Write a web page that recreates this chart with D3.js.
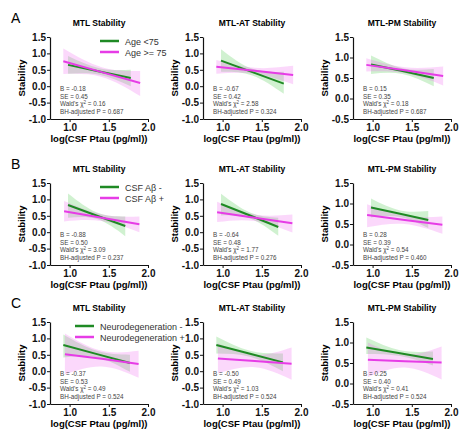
<html>
<head><meta charset="utf-8"></head>
<body style="margin:0;background:#fff">
<script src="https://d3js.org/d3.v7.min.js"></script>
<svg width="474" height="436"></svg>
<script>
// ---- data ----
var rowLetters = ["A", "B", "C"];
var panelTitles = ["MTL Stability", "MTL-AT Stability", "MTL-PM Stability"];
var yDomains = [[-1, 1.5], [-1, 1.5], [-0.5, 1.5]];
var xTicks = [1.0, 1.5, 2.0];
var legendLabels = [["Age <75", "Age >= 75"], ["CSF A\u03b2 -", "CSF A\u03b2 +"], ["Neurodegeneration -", "Neurodegeneration +"]];

// x positions (start, middle, end) of each group's fit, per row
var greenX = [[0.98, 1.38, 1.78], [0.98, 1.35, 1.71], [0.92, 1.35, 1.77]];
var pinkX  = [[0.92, 1.41, 1.90], [0.93, 1.41, 1.89], [0.94, 1.41, 1.88]];

// fit line and 95% band at those x, per panel (row-major)
var greenFit = [[0.65,0.45,0.25],[0.78,0.43,0.08],[0.83,0.67,0.50],
                [0.83,0.50,0.19],[0.86,0.51,0.16],[0.90,0.75,0.60],
                [0.80,0.52,0.25],[0.80,0.53,0.27],[0.88,0.74,0.60]];
var greenHi  = [[0.92,0.55,0.50],[1.13,0.53,0.44],[1.05,0.74,0.72],
                [1.18,0.60,0.48],[1.17,0.60,0.44],[1.12,0.83,0.82],
                [1.12,0.62,0.50],[1.06,0.62,0.54],[1.12,0.81,0.78]];
var greenLo  = [[0.38,0.35,0.00],[0.44,0.33,-0.23],[0.60,0.60,0.30],
                [0.44,0.40,-0.12],[0.51,0.42,-0.11],[0.66,0.67,0.40],
                [0.42,0.42,-0.02],[0.54,0.44,0.00],[0.72,0.67,0.44]];
var pinkFit  = [[0.76,0.43,0.10],[0.59,0.47,0.34],[0.82,0.69,0.55],
                [0.64,0.44,0.24],[0.61,0.44,0.27],[0.72,0.60,0.48],
                [0.52,0.38,0.22],[0.39,0.31,0.23],[0.58,0.545,0.51]];
var pinkHi   = [[1.15,0.58,0.46],[0.80,0.56,0.62],[0.98,0.76,0.78],
                [0.95,0.54,0.48],[0.93,0.54,0.54],[0.98,0.70,0.68],
                [1.15,0.62,0.62],[0.85,0.50,0.72],[1.00,0.70,0.90]];
var pinkLo   = [[0.37,0.28,-0.30],[0.38,0.38,0.06],[0.66,0.62,0.32],
                [0.33,0.34,0.00],[0.31,0.34,-0.01],[0.42,0.50,0.26],
                [-0.10,0.14,-0.20],[-0.07,0.12,-0.26],[0.16,0.39,0.10]];

var statB   = ["-0.18", "-0.67", "0.15", "-0.88", "-0.64", "0.28", "-0.37", "-0.50", "0.25"];
var statSE  = ["0.45", "0.42", "0.35", "0.50", "0.48", "0.39", "0.53", "0.49", "0.40"];
var statChi = ["0.16", "2.58", "0.18", "3.09", "1.77", "0.54", "0.49", "1.03", "0.41"];
var statP   = ["0.687", "0.324", "0.687", "0.237", "0.276", "0.460", "0.524", "0.524", "0.524"];

// ---- layout ----
var colLeft = [50, 203, 353];
var rowTop = [37, 183, 322];
var pw = 98, ph = 82;
var font = "'Liberation Sans', Arial, sans-serif";
var greenCol = "#1f8a24", pinkCol = "#e63ce6";

var svg = d3.select("svg").style("font-family", font);
var fmt = function(v) { return d3.format(".1f")(v).replace("\u2212", "-"); };

rowLetters.forEach(function(letter, r) {
    svg.append("text")
        .attr("x", 11).attr("y", rowTop[r] - 14)
        .attr("font-size", 14)
        .text(letter);

    panelTitles.forEach(function(title, c) {
        var i = r * 3 + c;
        var g = svg.append("g")
            .attr("transform", "translate(" + colLeft[c] + "," + rowTop[r] + ")");

        var x = d3.scaleLinear().domain([0.75, 2.0]).range([0, pw]);
        var y = d3.scaleLinear().domain(yDomains[c]).range([ph, 0]);

        // bands
        var groups = [
            {xs: greenX[r], fit: greenFit[i], hi: greenHi[i], lo: greenLo[i], col: greenCol, fill: "rgba(40,190,40,0.22)"},
            {xs: pinkX[r], fit: pinkFit[i], hi: pinkHi[i], lo: pinkLo[i], col: pinkCol, fill: "rgba(240,90,240,0.24)"}
        ];
        groups.forEach(function(gr) {
            var pts = gr.xs.map(function(xv, k) { return {x: xv, f: gr.fit[k], hi: gr.hi[k], lo: gr.lo[k]}; });
            g.append("path").datum(pts)
                .attr("fill", gr.fill)
                .attr("d", d3.area().curve(d3.curveNatural)
                    .x(function(d) { return x(d.x); })
                    .y0(function(d) { return y(d.lo); })
                    .y1(function(d) { return y(d.hi); }));
        });
        groups.forEach(function(gr) {
            var pts = gr.xs.map(function(xv, k) { return {x: xv, f: gr.fit[k]}; });
            g.append("path").datum(pts)
                .attr("fill", "none")
                .attr("stroke", gr.col)
                .attr("stroke-width", 2)
                .attr("d", d3.line()
                    .x(function(d) { return x(d.x); })
                    .y(function(d) { return y(d.f); }));
        });

        // axes
        var ya = g.append("g")
            .call(d3.axisLeft(y).tickValues(d3.range(yDomains[c][0], yDomains[c][1] + 0.01, 0.5))
                .tickFormat(fmt).tickSize(3).tickSizeOuter(0));
        var xa = g.append("g")
            .attr("transform", "translate(0," + ph + ")")
            .call(d3.axisBottom(x).tickValues(xTicks).tickFormat(fmt).tickSize(3).tickSizeOuter(0));
        [ya, xa].forEach(function(a) {
            a.selectAll("text").attr("font-size", 10).attr("font-weight", "bold")
                .attr("fill", "#111").style("font-family", font);
            a.select(".domain").attr("stroke", "#111").attr("stroke-width", 1.2);
            a.selectAll(".tick line").attr("stroke", "#111");
        });
        ya.selectAll("text").attr("x", -4);
        xa.selectAll("text").attr("y", 5);

        g.append("text")
            .attr("x", pw / 2).attr("y", -11)
            .attr("text-anchor", "middle")
            .attr("font-size", 8.5).attr("font-weight", "bold")
            .text(title);

        g.append("text")
            .attr("x", pw / 2).attr("y", ph + 23)
            .attr("text-anchor", "middle")
            .attr("font-size", 9.5).attr("font-weight", "bold")
            .text("log(CSF Ptau (pg/ml))");

        g.append("text")
            .attr("transform", "translate(-25," + (ph / 2) + ") rotate(-90)")
            .attr("text-anchor", "middle")
            .attr("font-size", 9.5).attr("font-weight", "bold")
            .text("Stability");

        // stats
        var st = g.append("g").attr("transform", "translate(10," + (ph - 28) + ")")
            .attr("font-size", 6.3).attr("fill", "#444");
        st.append("text").attr("y", 0).text("B   = " + statB[i]);
        st.append("text").attr("y", 7.6).text("SE = " + statSE[i]);
        var w = st.append("text").attr("y", 15.2);
        w.append("tspan").text("Wald's \u03c7");
        w.append("tspan").attr("dy", -2.5).attr("font-size", 4.5).text("2");
        w.append("tspan").attr("dy", 2.5).text(" = " + statChi[i]);
        st.append("text").attr("y", 22.8).text("BH-adjusted P = " + statP[i]);

        // legend in first column
        if (c === 0) {
            var lg = g.append("g").attr("transform", "translate(" + (r === 2 ? 25 : 50) + ",4)");
            [greenCol, pinkCol].forEach(function(col, k) {
                lg.append("line").attr("x1", 0).attr("x2", 19)
                    .attr("y1", k * 11).attr("y2", k * 11)
                    .attr("stroke", col).attr("stroke-width", 2.5);
                lg.append("text").attr("x", 25).attr("y", k * 11 + 3.5)
                    .attr("font-size", 9).attr("fill", "#333")
                    .text(legendLabels[r][k]);
            });
        }
    });
});
</script>
</body>
</html>
